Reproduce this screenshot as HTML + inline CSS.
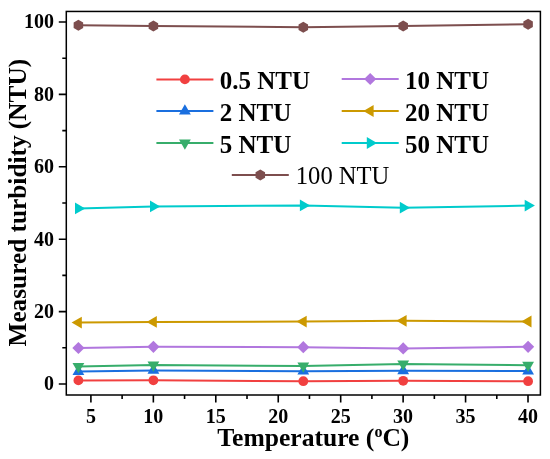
<!DOCTYPE html><html><head><meta charset="utf-8"><style>html,body{margin:0;padding:0;background:#fff}svg{display:block}text{font-family:"Liberation Serif","Times New Roman",serif}</style></head><body>
<svg width="550" height="459" viewBox="0 0 550 459">
<rect width="550" height="459" fill="#fff"/>
<polyline points="78.4,380.4 153.4,380.3 303.3,381.2 403.2,380.8 528.1,381.2" fill="none" stroke="#F14040" stroke-width="2"/>
<circle cx="78.4" cy="380.4" r="4.9" fill="#F14040"/>
<circle cx="153.4" cy="380.3" r="4.9" fill="#F14040"/>
<circle cx="303.3" cy="381.2" r="4.9" fill="#F14040"/>
<circle cx="403.2" cy="380.8" r="4.9" fill="#F14040"/>
<circle cx="528.1" cy="381.2" r="4.9" fill="#F14040"/>
<polyline points="78.4,371.6 153.4,370.4 303.3,371.2 403.2,370.8 528.1,371" fill="none" stroke="#1A6FDF" stroke-width="2"/>
<polygon points="78.4,364.79 84.3,375.01 72.5,375.01" fill="#1A6FDF"/>
<polygon points="153.4,363.59 159.3,373.81 147.5,373.81" fill="#1A6FDF"/>
<polygon points="303.3,364.39 309.2,374.61 297.4,374.61" fill="#1A6FDF"/>
<polygon points="403.2,363.99 409.1,374.21 397.3,374.21" fill="#1A6FDF"/>
<polygon points="528.1,364.19 534,374.41 522.2,374.41" fill="#1A6FDF"/>
<polyline points="78.4,366.4 153.4,365 303.3,366 403.2,364 528.1,365.2" fill="none" stroke="#37AD6B" stroke-width="2"/>
<polygon points="78.4,373.21 84.3,362.99 72.5,362.99" fill="#37AD6B"/>
<polygon points="153.4,371.81 159.3,361.59 147.5,361.59" fill="#37AD6B"/>
<polygon points="303.3,372.81 309.2,362.59 297.4,362.59" fill="#37AD6B"/>
<polygon points="403.2,370.81 409.1,360.59 397.3,360.59" fill="#37AD6B"/>
<polygon points="528.1,372.01 534,361.79 522.2,361.79" fill="#37AD6B"/>
<polyline points="78.4,348 153.4,346.8 303.3,347.2 403.2,348.4 528.1,346.8" fill="none" stroke="#B177DE" stroke-width="2"/>
<polygon points="78.4,341.9 84.5,348 78.4,354.1 72.3,348" fill="#B177DE"/>
<polygon points="153.4,340.7 159.5,346.8 153.4,352.9 147.3,346.8" fill="#B177DE"/>
<polygon points="303.3,341.1 309.4,347.2 303.3,353.3 297.2,347.2" fill="#B177DE"/>
<polygon points="403.2,342.3 409.3,348.4 403.2,354.5 397.1,348.4" fill="#B177DE"/>
<polygon points="528.1,340.7 534.2,346.8 528.1,352.9 522,346.8" fill="#B177DE"/>
<polyline points="78.4,322.6 153.4,321.9 303.3,321.6 403.2,320.8 528.1,321.5" fill="none" stroke="#CC9900" stroke-width="2"/>
<polygon points="71.59,322.6 81.81,328.5 81.81,316.7" fill="#CC9900"/>
<polygon points="146.59,321.9 156.81,327.8 156.81,316" fill="#CC9900"/>
<polygon points="296.49,321.6 306.71,327.5 306.71,315.7" fill="#CC9900"/>
<polygon points="396.39,320.8 406.61,326.7 406.61,314.9" fill="#CC9900"/>
<polygon points="521.29,321.5 531.51,327.4 531.51,315.6" fill="#CC9900"/>
<polyline points="78.4,208.4 153.4,206.4 303.3,205.4 403.2,207.66 528.1,205.6" fill="none" stroke="#00CBCC" stroke-width="2"/>
<polygon points="85.21,208.4 74.99,214.3 74.99,202.5" fill="#00CBCC"/>
<polygon points="160.21,206.4 149.99,212.3 149.99,200.5" fill="#00CBCC"/>
<polygon points="310.11,205.4 299.89,211.3 299.89,199.5" fill="#00CBCC"/>
<polygon points="410.01,207.66 399.79,213.56 399.79,201.76" fill="#00CBCC"/>
<polygon points="534.91,205.6 524.69,211.5 524.69,199.7" fill="#00CBCC"/>
<polyline points="78.4,25.3 153.4,25.9 303.3,27.3 403.2,25.9 528.1,24.3" fill="none" stroke="#7D4E4E" stroke-width="2"/>
<polygon points="78.4,19.8 73.64,22.55 73.64,28.05 78.4,30.8 83.16,28.05 83.16,22.55" fill="#7D4E4E"/>
<polygon points="153.4,20.4 148.64,23.15 148.64,28.65 153.4,31.4 158.16,28.65 158.16,23.15" fill="#7D4E4E"/>
<polygon points="303.3,21.8 298.54,24.55 298.54,30.05 303.3,32.8 308.06,30.05 308.06,24.55" fill="#7D4E4E"/>
<polygon points="403.2,20.4 398.44,23.15 398.44,28.65 403.2,31.4 407.96,28.65 407.96,23.15" fill="#7D4E4E"/>
<polygon points="528.1,18.8 523.34,21.55 523.34,27.05 528.1,29.8 532.86,27.05 532.86,21.55" fill="#7D4E4E"/>
<rect x="66.3" y="11.45" width="474.1" height="383.55" fill="none" stroke="#000" stroke-width="1.5"/>
<path d="M90.9,395.0V402.5M153.35,395.0V402.5M215.79,395.0V402.5M278.24,395.0V402.5M340.68,395.0V402.5M403.12,395.0V402.5M465.57,395.0V402.5M528.01,395.0V402.5M122.12,395.0V399M184.57,395.0V399M247.01,395.0V399M309.46,395.0V399M371.9,395.0V399M434.35,395.0V399M496.79,395.0V399M66.3,384H58.8M66.3,311.6H58.8M66.3,239.2H58.8M66.3,166.8H58.8M66.3,94.4H58.8M66.3,22H58.8M66.3,347.8H62.3M66.3,275.4H62.3M66.3,203H62.3M66.3,130.6H62.3M66.3,58.2H62.3" stroke="#000" stroke-width="1.6" fill="none"/>
<text x="90.9" y="423.3" font-size="20" font-weight="bold" text-anchor="middle">5</text>
<text x="153.35" y="423.3" font-size="20" font-weight="bold" text-anchor="middle">10</text>
<text x="215.79" y="423.3" font-size="20" font-weight="bold" text-anchor="middle">15</text>
<text x="278.24" y="423.3" font-size="20" font-weight="bold" text-anchor="middle">20</text>
<text x="340.68" y="423.3" font-size="20" font-weight="bold" text-anchor="middle">25</text>
<text x="403.12" y="423.3" font-size="20" font-weight="bold" text-anchor="middle">30</text>
<text x="465.57" y="423.3" font-size="20" font-weight="bold" text-anchor="middle">35</text>
<text x="528.01" y="423.3" font-size="20" font-weight="bold" text-anchor="middle">40</text>
<text x="54" y="390.35" font-size="20" font-weight="bold" text-anchor="end">0</text>
<text x="54" y="317.95" font-size="20" font-weight="bold" text-anchor="end">20</text>
<text x="54" y="245.55" font-size="20" font-weight="bold" text-anchor="end">40</text>
<text x="54" y="173.15" font-size="20" font-weight="bold" text-anchor="end">60</text>
<text x="54" y="100.75" font-size="20" font-weight="bold" text-anchor="end">80</text>
<text x="54" y="28.35" font-size="20" font-weight="bold" text-anchor="end">100</text>
<text x="217.3" y="446" font-size="25.6" font-weight="bold">Temperature (<tspan dy="-9" font-size="16">o</tspan><tspan dy="9">C)</tspan></text>
<text transform="translate(25.7,346.5) rotate(-90)" font-size="25.3" font-weight="bold">Measured turbidity (NTU)</text>
<path d="M156.4,79.4H213.4" stroke="#F14040" stroke-width="2"/>
<circle cx="184.9" cy="79.4" r="4.9" fill="#F14040"/>
<text x="219.7" y="89.2" font-size="25" font-weight="bold">0.5 NTU</text>
<path d="M156.4,111.1H213.4" stroke="#1A6FDF" stroke-width="2"/>
<polygon points="184.9,104.29 190.8,114.51 179,114.51" fill="#1A6FDF"/>
<text x="219.7" y="120.9" font-size="25" font-weight="bold">2 NTU</text>
<path d="M156.4,143H213.4" stroke="#37AD6B" stroke-width="2"/>
<polygon points="184.9,149.81 190.8,139.59 179,139.59" fill="#37AD6B"/>
<text x="219.7" y="152.8" font-size="25" font-weight="bold">5 NTU</text>
<path d="M341.7,79H398.7" stroke="#B177DE" stroke-width="2"/>
<polygon points="370.2,72.9 376.3,79 370.2,85.1 364.1,79" fill="#B177DE"/>
<text x="405" y="88.8" font-size="25" font-weight="bold">10 NTU</text>
<path d="M341.7,111H398.7" stroke="#CC9900" stroke-width="2"/>
<polygon points="363.39,111 373.61,116.9 373.61,105.1" fill="#CC9900"/>
<text x="405" y="120.8" font-size="25" font-weight="bold">20 NTU</text>
<path d="M341.7,143H398.7" stroke="#00CBCC" stroke-width="2"/>
<polygon points="377.01,143 366.79,148.9 366.79,137.1" fill="#00CBCC"/>
<text x="405" y="152.8" font-size="25" font-weight="bold">50 NTU</text>
<path d="M231.8,175.1H288.8" stroke="#7D4E4E" stroke-width="2"/>
<polygon points="260.3,169.6 255.54,172.35 255.54,177.85 260.3,180.6 265.06,177.85 265.06,172.35" fill="#7D4E4E"/>
<text x="295.8" y="183.9" font-size="24.6">100 NTU</text>
</svg></body></html>
